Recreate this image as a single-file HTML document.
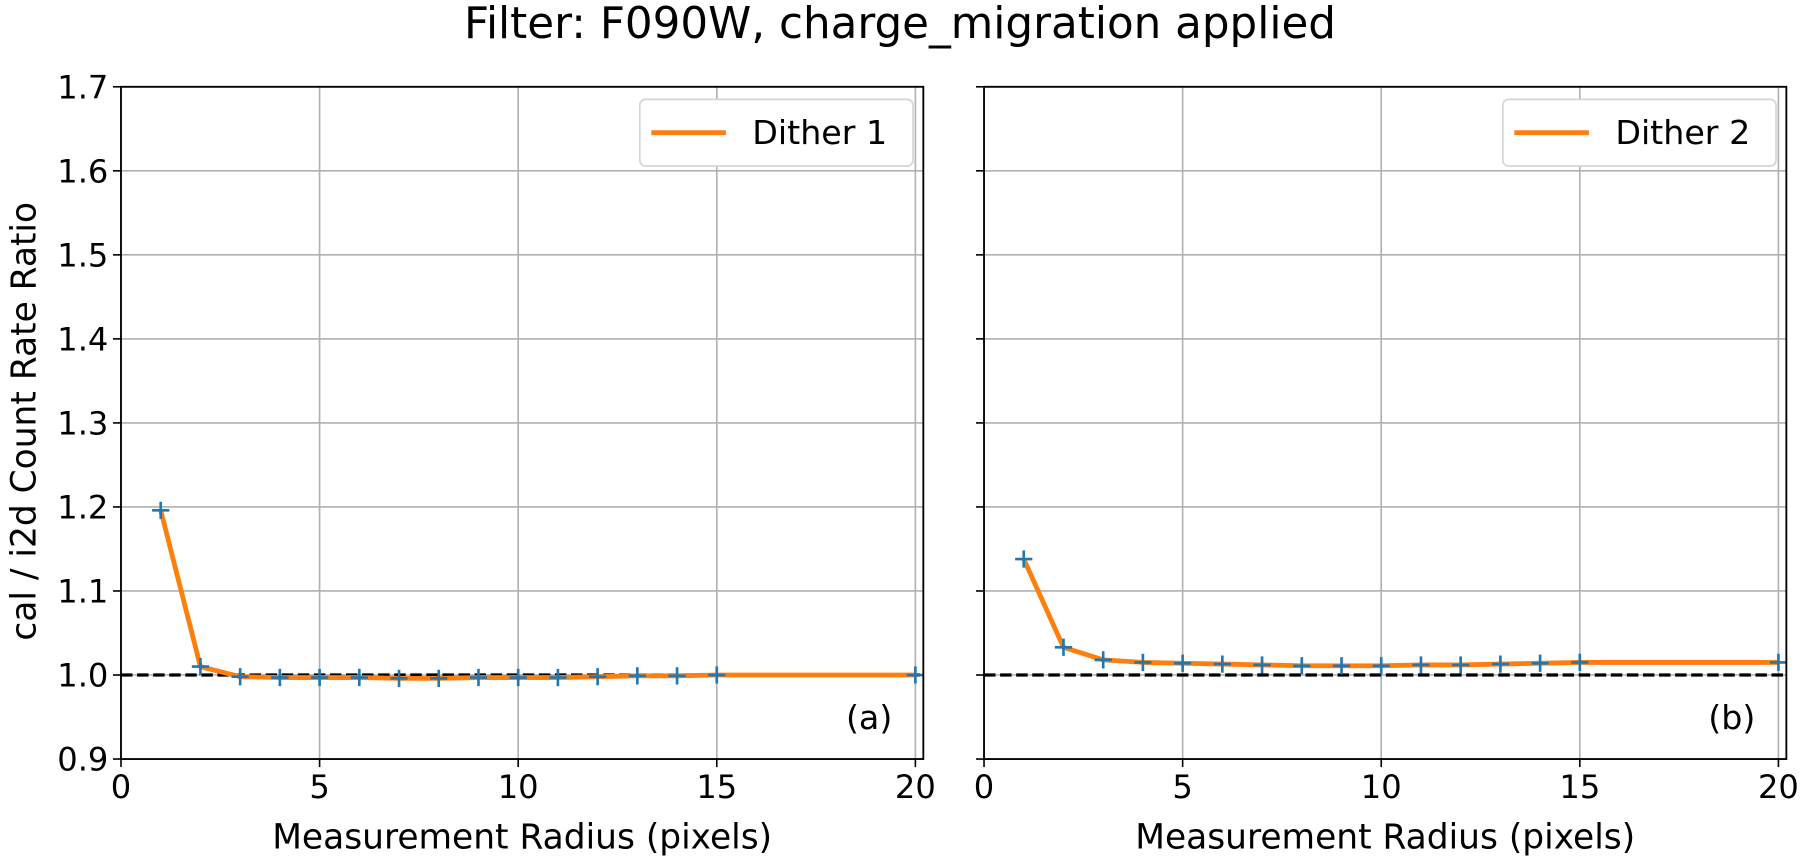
<!DOCTYPE html>
<html><head><style>body{margin:0;background:#fff}svg{display:block}</style></head>
<body>
<svg id="s" width="1800" height="858" viewBox="0 0 1568 747.4" xmlns="http://www.w3.org/2000/svg" font-family="'DejaVu Sans','Liberation Sans',sans-serif">
<rect width="1568" height="747.4" fill="#fff"/>
<text x="784" y="33" font-size="38" text-anchor="middle">Filter: F090W, charge_migration applied</text>
<text transform="translate(31,367) rotate(-90)" font-size="30" text-anchor="middle">cal / i2d Count Rate Ratio</text>
<g id="g"></g>
</svg>
<script>
(function(){
const g=document.getElementById('g');let h='';
const Y0=588,YS=732,TOP=Y0-7*73.2,BOT=Y0+73.2;
const d1=[1.196,1.010,0.998,0.997,0.997,0.997,0.996,0.996,0.997,0.997,0.997,0.998,0.999,0.999,1.0];
const d2=[1.138,1.033,1.018,1.015,1.014,1.013,1.012,1.011,1.011,1.011,1.012,1.012,1.013,1.014,1.015];
function panel(x0,data,lab,let_,yl){
 const XS=34.6,right=x0+20.2*XS;
 const X=v=>x0+v*XS,Yv=v=>Y0-(v-1)*YS;
 for(let i=0;i<=4;i++){const x=X(i*5);h+=`<line x1="${x}" y1="${TOP}" x2="${x}" y2="${BOT}" stroke="#b0b0b0" stroke-width="1.4"/>`;
  h+=`<line x1="${x}" y1="${BOT}" x2="${x}" y2="${BOT+7}" stroke="#000" stroke-width="1.4"/><text x="${x}" y="${BOT+34}" font-size="28" text-anchor="middle">${i*5}</text>`;}
 for(let i=0;i<=8;i++){const v=0.9+i*0.1,y=Yv(v);h+=`<line x1="${x0}" y1="${y}" x2="${right}" y2="${y}" stroke="#b0b0b0" stroke-width="1.4"/>`;
  h+=`<line x1="${x0-7}" y1="${y}" x2="${x0}" y2="${y}" stroke="#000" stroke-width="1.4"/>`;
  if(yl)h+=`<text x="${x0-11}" y="${y+10}" font-size="28" text-anchor="end">${v.toFixed(1)}</text>`;}
 h+=`<line x1="${x0}" y1="${Y0}" x2="${right}" y2="${Y0}" stroke="#000" stroke-width="2.8" stroke-dasharray="10,4"/>`;
 const pts=data.map((v,i)=>[X(i+1),Yv(v)]);pts.push([X(20),Yv(data[14])]);
 h+=`<polyline points="${pts.map(p=>p.join(',')).join(' ')}" fill="none" stroke="#ff7f0e" stroke-width="4.2" stroke-linejoin="round"/>`;
 pts.forEach(p=>{h+=`<path d="M${p[0]-7.5},${p[1]}h15M${p[0]},${p[1]-7.5}v15" stroke="#1f77b4" stroke-width="2.3"/>`;});
 h+=`<rect x="${x0}" y="${TOP}" width="${right-x0}" height="${BOT-TOP}" fill="none" stroke="#000" stroke-width="1.6"/>`;
 h+=`<text x="${right-27}" y="${BOT-26}" font-size="29" text-anchor="end">${let_}</text>`;
 const lx=right-247;
 h+=`<rect x="${lx}" y="${TOP+11}" width="238" height="58" rx="5" fill="#fff" stroke="#d5d5d5" stroke-width="1.5"/>`;
 h+=`<line x1="${lx+10}" y1="${TOP+40}" x2="${lx+75}" y2="${TOP+40}" stroke="#ff7f0e" stroke-width="4.2"/>`;
 h+=`<text x="${lx+98}" y="${TOP+50}" font-size="29">${lab}</text>`;
 h+=`<text x="${(x0+right)/2}" y="${BOT+78}" font-size="30" text-anchor="middle">Measurement Radius (pixels)</text>`;
}
panel(105.4,d1,'Dither 1','(a)',true);
panel(857.2,d2,'Dither 2','(b)',false);
g.innerHTML=h;
})();
</script>
</body></html>
